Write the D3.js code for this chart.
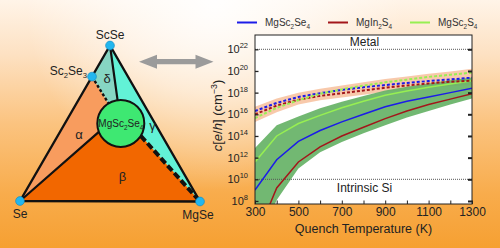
<!DOCTYPE html>
<html><head><meta charset="utf-8">
<script src="https://cdn.jsdelivr.net/npm/d3@7"></script>
<style>
html,body{margin:0;padding:0;width:500px;height:248px;overflow:hidden;background:#fff;}
svg{display:block;font-family:"Liberation Sans",Arial,Helvetica,sans-serif;}
</style></head><body>
<svg id="c" width="500" height="248"></svg>
<script>
// ---------------- data ----------------
const temps = [300,400,500,600,700,800,900,1000,1100,1200,1300];      // Quench temperature (K)
const xTickLabels = [300,500,700,900,1100,1300];
const xMinorTicks = [400,600,800,1000,1200];
const yTickExps = [8,10,12,14,16,18,20,22];
const yDomainExp = [7.72, 23.32];
const seriesNames = ["MgSc2Se4","MgIn2S4","MgSc2S4"];
// log10 of carrier concentration c[e/h] (cm^-3)
const mgSc2Se4Solid  = [9.0,11.8,13.5,14.5,15.3,16.0,16.7,17.2,17.6,18.0,18.4];
const mgIn2S4Solid   = [4.4,9.2,11.6,13.0,14.0,14.8,15.6,16.3,16.9,17.4,17.9];
const mgSc2S4Solid   = [11.6,14.0,15.15,15.9,16.6,17.2,17.75,18.15,18.5,18.8,19.1];
const mgSc2Se4Dashed = [16.3,17.05,17.6,17.95,18.25,18.5,18.7,18.9,19.07,19.22,19.38];
const mgIn2S4Dashed  = [16.0,16.8,17.35,17.7,17.95,18.2,18.45,18.65,18.85,19.0,19.1];
const mgSc2S4Dashed  = [15.65,16.6,17.3,17.9,18.3,18.65,18.95,19.2,19.45,19.65,19.85];
const solidBandUpper  = [12.9,15.0,15.8,16.55,17.15,17.7,18.2,18.55,18.85,19.15,19.4];
const solidBandLower  = [3.35,8.1,11.0,12.5,13.45,14.25,15.0,15.7,16.3,16.9,17.45];
const dashedBandUpper = [16.7,17.45,18.0,18.35,18.65,18.95,19.25,19.5,19.75,19.95,20.2];
const dashedBandLower = [15.3,16.2,16.9,17.3,17.55,17.8,18.05,18.25,18.45,18.6,18.7];
const refLines = [{exp:22,label:"Metal",above:true},{exp:10,label:"Intrinsic Si",above:false}];

// ternary phase diagram (fractions of Se, MgSe, ScSe)
const phaseNames = ["Se","MgSe","ScSe","Sc2Se3","MgSc2Se4"];
const phaseFractions = [[1,0,0],[0,1,0],[0,0,1],[0.2,0,0.8],[0.19,0.31,0.50]]; // MgSc2Se4 placed schematically
const regionLabels = ["α","β","γ","δ"];

// ---------------- styles ----------------
const colors = {blue:"#1c1ce8", red:"#a3161a", green:"#97ef52"};
const solidSeries = [mgSc2Se4Solid, mgIn2S4Solid, mgSc2S4Solid];
const dashedSeries = [mgSc2Se4Dashed, mgIn2S4Dashed, mgSc2S4Dashed];
const seriesColors = [colors.blue, colors.red, colors.green];

const svg = d3.select("#c");
const defs = svg.append("defs");

// background
const lg = defs.append("linearGradient").attr("id","bg").attr("x1",0).attr("y1",0).attr("x2",0).attr("y2",1);
[[0,"#fff4e8"],[0.22,"#fde1c2"],[0.5,"#fbc37f"],[0.78,"#f8ac4c"],[1,"#f6a032"]].forEach(s=>lg.append("stop").attr("offset",s[0]).attr("stop-color",s[1]));
const rg = defs.append("radialGradient").attr("id","glow").attr("gradientUnits","userSpaceOnUse")
  .attr("cx",215).attr("cy",0).attr("r",190);
[[0,"#ffffff",0.95],[0.5,"#ffffff",0.55],[1,"#ffffff",0]].forEach(s=>rg.append("stop").attr("offset",s[0]).attr("stop-color",s[1]).attr("stop-opacity",s[2]));
svg.append("rect").attr("width",500).attr("height",248).attr("fill","url(#bg)");
svg.append("rect").attr("width",500).attr("height",248).attr("fill","url(#glow)");

// rich text helper
function rich(sel, parts, base){
  parts.forEach(p=>{
    const t = sel.append("tspan").text(p.t);
    if(p.i) t.attr("font-style","italic");
    if(p.sub){ t.attr("font-size",base*0.62).attr("dy",base*0.28); }
    if(p.sup){ t.attr("font-size",base*0.68).attr("dy",-base*0.42); }
    if(p.back) t.attr("dy",p.back);
  });
}
function formula(name){
  const parts=[]; const re=/([A-Z][a-z]?)(\d*)/g; let m; let prevSub=false;
  while((m=re.exec(name))){
    parts.push({t:m[1], back: prevSub});
    prevSub=false;
    if(m[2]){ parts.push({t:m[2], sub:true}); prevSub=true; }
  }
  return parts;
}
function drawFormula(sel, name, size){
  formula(name).forEach(p=>{
    const t = sel.append("tspan").text(p.t);
    if(p.sub){ t.attr("font-size",size*0.64).attr("dy",size*0.28); }
    else if(p.back){ t.attr("dy",-size*0.28); }
  });
}

// ---------------- chart ----------------
const m = {l:255, r:472, t:35, b:204};
const x = d3.scaleLinear().domain([300,1300]).range([m.l,m.r]);
const y = d3.scaleLog().domain(yDomainExp.map(e=>Math.pow(10,e))).range([m.b,m.t]);
const Y = e => y(Math.pow(10,e));

defs.append("clipPath").attr("id","plotclip").append("rect")
  .attr("x",m.l).attr("y",m.t).attr("width",m.r-m.l).attr("height",m.b-m.t);

svg.append("rect").attr("x",m.l).attr("y",m.t).attr("width",m.r-m.l).attr("height",m.b-m.t).attr("fill","#fff");

const plot = svg.append("g").attr("clip-path","url(#plotclip)");

const area = (up,lo) => d3.area().x((d,i)=>x(temps[i])).y0((d,i)=>Y(lo[i])).y1((d,i)=>Y(up[i]))(temps);
const line = arr => d3.line().x((d,i)=>x(temps[i])).y((d,i)=>Y(arr[i]))(temps);

plot.append("path").attr("d",area(dashedBandUpper,dashedBandLower)).attr("fill","#f8c6a6").attr("opacity",0.95);
plot.append("path").attr("d",area(solidBandUpper,solidBandLower)).attr("fill","#66b266").attr("opacity",0.92);

// reference lines
refLines.forEach(r=>{
  plot.append("line").attr("x1",m.l).attr("x2",m.r).attr("y1",Y(r.exp)).attr("y2",Y(r.exp))
    .attr("stroke","#555").attr("stroke-width",1).attr("stroke-dasharray","1,1");
  svg.append("text").attr("x",(m.l+m.r)/2+1).attr("y",r.above?Y(r.exp)-3:Y(r.exp)+12.5)
    .attr("text-anchor","middle").attr("font-size",12).attr("fill","#222").text(r.label);
});

solidSeries.forEach((s,i)=>plot.append("path").attr("d",line(s)).attr("fill","none")
  .attr("stroke",seriesColors[i]).attr("stroke-width",1.5));
dashedSeries.forEach((s,i)=>plot.append("path").attr("d",line(s)).attr("fill","none")
  .attr("stroke",seriesColors[i]).attr("stroke-width",2).attr("stroke-dasharray","3,2"));

// frame
svg.append("rect").attr("x",m.l).attr("y",m.t).attr("width",m.r-m.l).attr("height",m.b-m.t)
  .attr("fill","none").attr("stroke","#222").attr("stroke-width",1);

// x axis ticks (inward) and labels
const xAxis = d3.axisBottom(x).tickValues(xTickLabels.concat(xMinorTicks)).tickSize(-3.5).tickFormat(d=>xTickLabels.includes(d)?d:"").tickPadding(3);
const gx = svg.append("g").attr("transform",`translate(0,${m.b})`).call(xAxis);
gx.select(".domain").remove();
gx.selectAll("line").attr("stroke","#222");
gx.selectAll("text").attr("font-size",12).attr("fill","#222").attr("font-family","Liberation Sans, Arial, sans-serif");

// y ticks
const yTickVals = yTickExps.map(e=>Math.pow(10,e));
const gyl = svg.append("g").attr("transform",`translate(${m.l},0)`).call(d3.axisLeft(y).tickValues(yTickVals).tickSize(-3.5).tickFormat(""));
gyl.select(".domain").remove(); gyl.selectAll("line").attr("stroke","#222").attr("stroke-width",1.3);
const gyr = svg.append("g").attr("transform",`translate(${m.r},0)`).call(d3.axisRight(y).tickValues(yTickVals).tickSize(-4).tickFormat(""));
gyr.select(".domain").remove(); gyr.selectAll("line").attr("stroke","#222").attr("stroke-width",2);

yTickExps.forEach(e=>{
  const t = svg.append("text").attr("x",m.l-7).attr("y",Y(e)+4).attr("text-anchor","end").attr("font-size",11).attr("fill","#222");
  t.append("tspan").text("10");
  t.append("tspan").text(e).attr("font-size",7.5).attr("dy",-5);
});

// axis titles
svg.append("text").attr("x",(m.l+m.r)/2).attr("y",232.5).attr("text-anchor","middle").attr("font-size",12.5).attr("fill","#222")
  .text("Quench Temperature (K)");
const yl = svg.append("text").attr("transform",`translate(222,${(m.t+m.b)/2-4}) rotate(-90)`).attr("text-anchor","middle").attr("font-size",13).attr("fill","#222");
rich(yl,[{t:"c",i:true},{t:"["},{t:"e",i:true},{t:"/"},{t:"h",i:true},{t:"] (cm"},{t:"−3",sup:true},{t:")",back:13*0.42}],13);

// legend
const legX = [237,328,410];
seriesNames.forEach((n,i)=>{
  svg.append("line").attr("x1",legX[i]).attr("x2",legX[i]+20).attr("y1",22.5).attr("y2",22.5)
    .attr("stroke",seriesColors[i]).attr("stroke-width",2);
  const t = svg.append("text").attr("x",legX[i]+28).attr("y",26).attr("font-size",10).attr("fill","#333");
  drawFormula(t,n,10);
});

// ---------------- ternary diagram ----------------
const corners = [[20,201],[200,201.5],[110,45.5]]; // layout of Se, MgSe, ScSe
const tern = f => [f[0]*corners[0][0]+f[1]*corners[1][0]+f[2]*corners[2][0], f[0]*corners[0][1]+f[1]*corners[1][1]+f[2]*corners[2][1]];
const P = {}; phaseNames.forEach((n,i)=>P[n]=tern(phaseFractions[i]));
const C = P["MgSc2Se4"], R = 23.5;
const onCircle = deg => [C[0]+R*Math.cos(deg*Math.PI/180), C[1]+R*Math.sin(deg*Math.PI/180)];
const toward = p => onCircle(Math.atan2(p[1]-C[1],p[0]-C[0])*180/Math.PI);
const pA = toward(P["Sc2Se3"]), pTop = toward(P["ScSe"]), pLeft = onCircle(159), pRight = onCircle(32);

const dg = svg.append("g");
const poly = (pts, fill) => dg.append("path").attr("d","M"+pts.map(p=>p.join(",")).join("L")+"Z").attr("fill",fill);
poly([P.Se,P.Sc2Se3,pA,C,pLeft],"#f89c5e");
poly([P.Sc2Se3,P.ScSe,pTop,C,pA],"#86d6c3");
poly([P.ScSe,P.MgSe,pRight,C,pTop],"#62f2d6");
poly([P.Se,pLeft,C,pRight,P.MgSe],"#f26700");

const seg = (a,b,w,dash)=>dg.append("line").attr("x1",a[0]).attr("y1",a[1]).attr("x2",b[0]).attr("y2",b[1])
  .attr("stroke","#111").attr("stroke-width",w).attr("stroke-dasharray",dash||null).attr("stroke-linecap",dash?"butt":"round");
seg(P.Se,pLeft,2.2);
seg(P.ScSe,pTop,2.2);
seg(P.Sc2Se3,pA,2.4,"3,2");
seg(pRight,P.MgSe,4,"7,3");
dg.append("path").attr("d",`M${P.Se}L${P.ScSe}L${P.MgSe}Z`).attr("fill","none").attr("stroke","#111").attr("stroke-width",2.4).attr("stroke-linejoin","round");

dg.append("circle").attr("cx",C[0]).attr("cy",C[1]).attr("r",R).attr("fill","#3ee872").attr("stroke","#111").attr("stroke-width",2);
const ct = dg.append("text").attr("x",C[0]).attr("y",C[1]+3.5).attr("text-anchor","middle").attr("font-size",10).attr("fill","#222");
drawFormula(ct,"MgSc2Se4",10);

["Se","MgSe","ScSe","Sc2Se3"].forEach(n=>dg.append("circle").attr("cx",P[n][0]).attr("cy",P[n][1]).attr("r",4.4)
  .attr("fill","#22b6ee").attr("stroke","#0b86bd").attr("stroke-width",0.6));

const lab = (x0,y0,anchor)=>dg.append("text").attr("x",x0).attr("y",y0).attr("text-anchor",anchor).attr("font-size",12).attr("fill","#222");
lab(P.ScSe[0],P.ScSe[1]-7,"middle").text("ScSe");
drawFormula(lab(P.Sc2Se3[0]-5,P.Sc2Se3[1]-1.5,"end"),"Sc2Se3",12);
lab(P.Se[0],P.Se[1]+17,"middle").text("Se");
lab(P.MgSe[0]-2,P.MgSe[1]+17,"middle").text("MgSe");
const regionPos = [[79,139],[122.5,181],[152.5,130],[107,83]];
regionLabels.forEach((l,i)=>lab(regionPos[i][0],regionPos[i][1],"middle").attr("font-size",13).text(l));

// double arrow
const ax0=139, ax1=213.5, ay=61.7, hw=7, sw=2.6, hl=18;
dg.append("path").attr("d",`M${ax0},${ay}L${ax0+hl},${ay-hw}L${ax0+hl},${ay-sw}L${ax1-hl},${ay-sw}L${ax1-hl},${ay-hw}L${ax1},${ay}L${ax1-hl},${ay+hw}L${ax1-hl},${ay+sw}L${ax0+hl},${ay+sw}L${ax0+hl},${ay+hw}Z`)
  .attr("fill","#9b9b9b");
</script>
</body></html>
